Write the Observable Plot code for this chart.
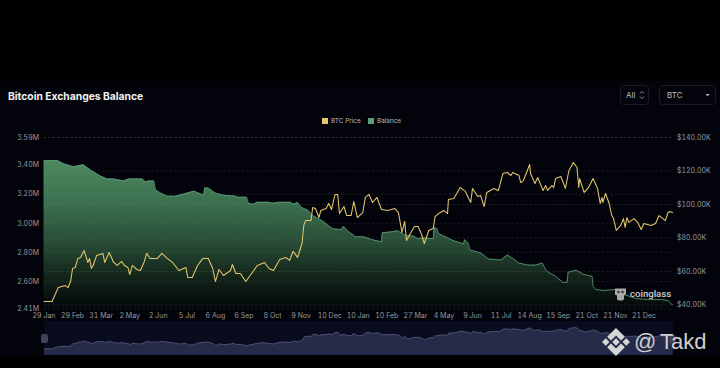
<!DOCTYPE html>
<html><head><meta charset="utf-8">
<script src="https://cdn.jsdelivr.net/npm/d3@7"></script>
<script src="https://cdn.jsdelivr.net/npm/@observablehq/plot@0.6"></script>
<style>
html,body{margin:0;padding:0;background:#000;overflow:hidden}
#root{position:relative;width:720px;height:368px;background:#000;font-family:Inter,Roboto,sans-serif;overflow:hidden}
#panel{position:absolute;left:0;top:81px;width:720px;height:275px;background:#03040b}
#root>svg{position:absolute;left:0;top:0;background:transparent}
.abs{position:absolute;white-space:nowrap}
.btn{position:absolute;border:1px solid #1a1c24;border-radius:4px;box-sizing:border-box;color:#bfbfc3;font-size:8px;line-height:19px}
.sw{position:absolute;width:6px;height:6px}
.lg{position:absolute;font-size:6.4px;color:#b8b8bc;line-height:8px;white-space:nowrap}
</style></head><body><div id="root"><div id="panel"></div></div>
<script>
// sample number on the chart's evenly spaced category axis (32 samples per label)
const xLabels = ["29 Jan","29 Feb","31 Mar","2 May","2 Jun","5 Jul","6 Aug","6 Sep","8 Oct","9 Nov","10 Dec","10 Jan","10 Feb","27 Mar","4 May","9 Jun","11 Jul","14 Aug","15 Sep","21 Oct","21 Nov","21 Dec"];
const balanceTicks = [3.59,3.40,3.20,3.00,2.80,2.60,2.41];
const balanceGrid = [3.59,3.20,3.00,2.80,2.60,2.41];
const priceTicks = [140,120,100,80,60,40];

const priceSample = [0,9,13,16,24,27,30,32,35,38,41,45,49,51,53,55,59,66,68,73,78,82,87,90,94,96,99,104,108,112,115,119,127,132,138,144,151,159,161,166,172,178,184,189,192,196,201,209,211,215,220,226,235,239,247,252,257,264,271,275,279,284,289,291,293,299,301,304,308,310,316,319,322,326,329,331,336,339,344,347,351,357,360,364,368,373,378,385,393,397,401,404,406,411,415,419,423,426,431,436,438,442,448,452,453,459,463,466,472,478,480,486,489,493,496,504,509,514,519,523,525,532,534,537,544,545,550,553,559,562,564,569,571,573,579,584,588,593,597,599,600,605,610,615,620,623,625,626,629,633,636,638,641,646,649,651,653,655,661,665,669,672,680,685,689,696,699,701,704];
const priceK = [42.1,42.1,46.9,50.4,51.6,50.4,54.6,61.8,62.4,67.8,68.4,72.5,65.4,67.8,61.8,63.6,69.6,70.8,65.4,71.4,65.4,63.6,66,63.6,62.4,58.2,63.6,61.2,60.6,65.4,70.8,67.8,67.8,70.8,67.8,65.4,60.6,62.4,56.4,56.4,63.6,67.8,67.8,61.8,54,61.2,57.6,60.6,64.2,58.8,58.8,54,60.6,63.6,65.4,61.8,60.6,67.2,68.4,66.6,72,68.4,76.7,87.5,90.4,90.4,98.2,97.6,92.2,96.4,97.6,100.6,97,106,106,94.6,98.8,93.4,93.4,101.8,92.2,95.2,104.2,106,101.2,104.2,97,96.4,97.6,95.2,83.3,89.9,78.5,83.3,86.9,86.9,82.1,76.7,84.5,85.7,92.8,94.6,96.4,94.6,103,103.6,107.2,110.2,107.8,101.2,109.6,104.8,105.4,98.8,107.2,109.6,108.4,118.5,119.1,117.3,119.1,117.3,113.1,114.3,123.9,118.5,112.5,116.1,108.4,111.3,108.4,111.3,110.2,115.5,116.7,109.6,120.3,125.1,122.1,110.2,115.5,107.2,110.2,115.5,109.6,100.6,104.2,101.2,106.6,100.6,93.4,91.6,84.5,87.5,91.6,86.3,92.2,89.3,91.6,89.3,85.1,88.7,87.5,88.7,93.4,90.4,95.2,95.8,95.2];

const balanceSample = [0,15,22,33,44,52,63,71,78,89,95,110,114,117,123,125,131,138,147,156,168,179,180,184,192,201,215,217,227,229,234,239,252,256,263,276,280,284,288,296,301,307,313,323,332,336,340,349,358,368,378,379,391,396,402,405,413,419,425,436,437,440,442,452,459,470,471,475,477,489,498,512,519,526,532,542,551,558,563,573,581,586,587,596,604,614,615,618,627,639,650,663,676,691,699,702,704];
const balanceM = [3.43,3.432,3.409,3.388,3.402,3.367,3.325,3.305,3.305,3.291,3.305,3.305,3.284,3.291,3.291,3.228,3.207,3.186,3.186,3.2,3.221,3.193,3.242,3.242,3.207,3.193,3.186,3.179,3.179,3.137,3.13,3.144,3.144,3.137,3.144,3.144,3.13,3.144,3.11,3.088,3.054,3.033,3.012,2.963,2.956,2.977,2.949,2.907,2.907,2.886,2.872,2.935,2.942,2.949,2.928,2.914,2.914,2.893,2.9,2.893,2.97,2.963,2.928,2.9,2.879,2.858,2.886,2.865,2.816,2.796,2.754,2.747,2.782,2.754,2.726,2.712,2.712,2.726,2.67,2.635,2.593,2.593,2.663,2.677,2.649,2.635,2.565,2.544,2.537,2.544,2.509,2.482,2.475,2.475,2.468,2.447,2.44];

const price = priceSample.map((s,i)=>({s,v:priceK[i]}));
const balance = balanceSample.map((s,i)=>({s,v:balanceM[i]}));
const xDomain = [0,704];
const tickFont = {fontSize:7, fill:"#97989d", fontFamily:"Inter,Roboto,sans-serif"};
const root = document.getElementById("root");

function gradient(){
  const g = d3.create("svg:g");
  g.html(`<defs><linearGradient id="balGrad" x1="0" y1="0" x2="0" y2="1">
    <stop offset="0" stop-color="#4c8a60"/><stop offset="0.3" stop-color="#3b6f4e"/>
    <stop offset="0.55" stop-color="#294e37"/><stop offset="0.8" stop-color="#112218"/>
    <stop offset="1" stop-color="#03070a"/></linearGradient></defs>`);
  return g.node();
}
const gridStyle = {stroke:"#8a8d96", strokeOpacity:0.26, strokeWidth:0.7, strokeDasharray:"2.5,2"};

// left scale: balance
root.appendChild(Plot.plot({
  width:720,height:368,marginTop:137,marginBottom:59.5,marginLeft:43.5,marginRight:48,
  style:{background:"transparent",overflow:"visible"},
  x:{domain:xDomain},y:{domain:[2.41,3.59]},
  marks:[
    gradient,
    Plot.areaY(balance,{x:"s",y1:2.41,y2:"v",fill:"url(#balGrad)"}),
    Plot.line(balance,{x:"s",y:"v",stroke:"#5f9f78",strokeWidth:0.8}),
    Plot.ruleY(balanceGrid,gridStyle),
    Plot.axisY(balanceTicks,{anchor:"left",tickSize:0,tickPadding:5,label:null,tickFormat:d=>d.toFixed(2)+"M",...tickFont}),
    Plot.axisX(xLabels.map((_,i)=>i*32),{anchor:"bottom",tickSize:0,tickPadding:4,label:null,tickFormat:s=>xLabels[s/32],...tickFont})
  ]
}));

// right scale: BTC price
root.appendChild(Plot.plot({
  width:720,height:368,marginTop:137,marginBottom:63.5,marginLeft:43.5,marginRight:48,
  style:{background:"transparent",overflow:"visible"},
  x:{domain:xDomain,axis:null},y:{domain:[40,140]},
  marks:[
    Plot.ruleY(priceTicks,gridStyle),
    Plot.line(price,{x:"s",y:"v",stroke:"#e5c76e",strokeWidth:1.05}),
    Plot.axisY(priceTicks,{anchor:"right",tickSize:0,tickPadding:4.5,label:null,tickFormat:d=>"$"+d.toFixed(2)+"K",...tickFont})
  ]
}));

// range navigator
root.appendChild(Plot.plot({
  width:720,height:368,marginTop:320.7,marginBottom:13.3,marginLeft:44,marginRight:47.3,
  style:{background:"transparent"},
  x:{domain:xDomain,axis:null},y:{domain:[17,149.5],axis:null},
  marks:[
    Plot.frame({fill:"#080c1e",stroke:"none"}),
    Plot.areaY(price,{x:"s",y1:17,y2:"v",fill:"#262b4a"}),
    Plot.line(price,{x:"s",y:"v",stroke:"#5a5f7c",strokeWidth:0.7})
  ]
}));

function add(html){const t=document.createElement("template");t.innerHTML=html.trim();root.appendChild(t.content.firstChild);}
add(`<div class="abs" style="left:8px;top:89px;font-size:10.3px;font-weight:700;color:#f2f2f2;line-height:14px">Bitcoin Exchanges Balance</div>`);
add(`<div class="btn" style="left:620px;top:85px;width:29px;height:20px;padding-left:5px">All</div>`);
add(`<svg class="abs" style="left:639px;top:90px" width="6" height="10" viewBox="0 0 6 10"><path d="M1 3.5L3 1.5L5 3.5M1 6.5L3 8.5L5 6.5" fill="none" stroke="#b5b5b8" stroke-width="0.8"/></svg>`);
add(`<div class="btn" style="left:659px;top:85px;width:57px;height:20px;padding-left:7px">BTC</div>`);
add(`<svg class="abs" style="left:705px;top:93px" width="5" height="4" viewBox="0 0 5 4"><path d="M0.5 1L4.5 1L2.5 3.4Z" fill="#b5b5b8"/></svg>`);
add(`<div class="sw" style="left:322px;top:118px;background:#e5c76e"></div>`);
add(`<div class="lg" style="left:331px;top:117px">BTC Price</div>`);
add(`<div class="sw" style="left:368px;top:118px;background:#5f9f78"></div>`);
add(`<div class="lg" style="left:377px;top:117px">Balance</div>`);
// navigator handles
add(`<div class="abs" style="left:41px;top:334px;width:7px;height:9px;border-radius:2px;background:#3e4357"></div>`);
add(`<div class="abs" style="left:669px;top:335px;width:7px;height:9px;border-radius:2px;background:#3e4357"></div>`);
// watermarks
add(`<svg class="abs" style="left:614px;top:287px" width="13" height="15" viewBox="0 0 13 14"><path d="M1 1H12V7L10 8V12L8 13H5L3 12V8L1 7Z" fill="#a9a9a9"/><circle cx="4.5" cy="4.5" r="1.2" fill="#333"/><circle cx="8.5" cy="4.5" r="1.2" fill="#333"/></svg>`);
add(`<div class="abs" style="left:630px;top:287px;font-size:9.6px;font-weight:500;color:#cfcfcf;line-height:13px;font-family:Roboto,sans-serif">coinglass</div>`);
add(`<svg class="abs" style="left:601px;top:328px" width="30" height="28" viewBox="0 0 30 30"><g fill="#d6d6d6"><path d="M15 0L24.5 9.5L20.5 13.5L15 8L9.5 13.5L5.5 9.5Z"/><path d="M15 30L24.5 20.5L20.5 16.5L15 22L9.5 16.5L5.5 20.5Z"/><path d="M15 11L19 15L15 19L11 15Z"/><path d="M4 11L8 15L4 19L0 15Z"/><path d="M26 11L30 15L26 19L22 15Z"/></g></svg>`);
add(`<div class="abs" style="left:634px;top:327px;font-size:22px;color:#cfcfcf;line-height:30px;word-spacing:-2px;font-family:'Liberation Sans',sans-serif">@ Takd</div>`);
</script></body></html>
